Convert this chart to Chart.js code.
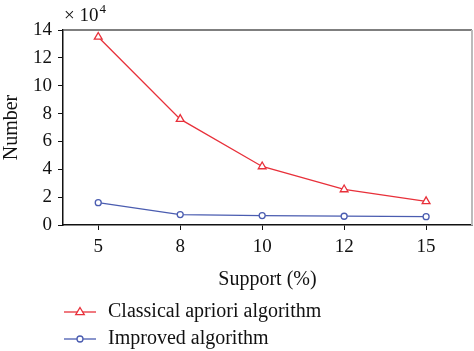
<!DOCTYPE html>
<html><head><meta charset="utf-8">
<script src="https://cdn.jsdelivr.net/npm/chart.js@4"></script>
<style>html,body{margin:0;padding:0;background:#fff}#w{width:474px;height:351px;position:relative}</style>
</head><body><div id="w"><canvas id="c"></canvas></div>
<script>
const supportLabels = ['5', '8', '10', '12', '15'];
const classicalValues = [13.5, 7.6, 4.2, 2.55, 1.7];
const improvedValues = [1.6, 0.75, 0.68, 0.63, 0.6];
const yTicks = [0, 2, 4, 6, 8, 10, 12, 14];
const seriesNames = ['Classical apriori algorithm', 'Improved algorithm'];
const xTitle = 'Support (%)';
const yTitle = 'Number';
const multiplierBase = '\u00d7 10';
const multiplierExp = '4';

const RED = '#e8303a';
const BLUE = '#4a5cb0';
const FONT = '"Liberation Serif", "DejaVu Serif", serif';

const toPoints = vals => vals.map((v, i) => ({x: i, y: v}));

const framePlugin = {
  id: 'frameLegend',
  afterDraw(chart) {
    const ctx = chart.ctx;
    const ca = chart.chartArea;
    ctx.save();
    ctx.strokeStyle = '#555';
    ctx.lineWidth = 1.5;
    ctx.beginPath(); ctx.moveTo(ca.left, ca.top); ctx.lineTo(ca.right, ca.top); ctx.stroke();
    ctx.strokeStyle = '#bbb';
    ctx.lineWidth = 2;
    ctx.beginPath(); ctx.moveTo(ca.right, ca.top); ctx.lineTo(ca.right, ca.bottom); ctx.stroke();
    ctx.fillStyle = '#111';
    ctx.font = '19px ' + FONT;
    ctx.textBaseline = 'alphabetic';
    ctx.textAlign = 'left';
    const mx = ca.left + 1, my = ca.top - 9;
    ctx.fillText(multiplierBase, mx, my);
    const w = ctx.measureText(multiplierBase).width;
    ctx.font = '13px ' + FONT;
    ctx.fillText(multiplierExp, mx + w + 1, my - 8);
    const rows = [
      {name: seriesNames[0], color: RED, style: 'triangle', y: 312},
      {name: seriesNames[1], color: BLUE, style: 'circle', y: 339}
    ];
    rows.forEach(r => {
      ctx.strokeStyle = r.color;
      ctx.lineWidth = 1.3;
      ctx.beginPath(); ctx.moveTo(64, r.y); ctx.lineTo(96, r.y); ctx.stroke();
      ctx.fillStyle = '#fff';
      ctx.beginPath();
      if (r.style === 'triangle') {
        const rad = 4.5;
        ctx.moveTo(80, r.y - rad);
        ctx.lineTo(80 + rad * 0.95, r.y + rad * 0.6);
        ctx.lineTo(80 - rad * 0.95, r.y + rad * 0.6);
        ctx.closePath();
      } else {
        ctx.arc(80, r.y, 3, 0, Math.PI * 2);
      }
      ctx.fill(); ctx.stroke();
      ctx.fillStyle = '#111';
      ctx.font = '20px ' + FONT;
      ctx.textBaseline = 'middle';
      ctx.fillText(r.name, 108, r.y);
    });
    ctx.restore();
  }
};

new Chart(document.getElementById('c'), {
  type: 'line',
  data: {
    datasets: [
      {
        label: seriesNames[0],
        data: toPoints(classicalValues),
        borderColor: RED,
        backgroundColor: '#fff',
        borderWidth: 1.3,
        pointStyle: 'triangle',
        pointRadius: 4.5,
        pointBorderWidth: 1.3,
        pointBackgroundColor: '#fff',
        pointBorderColor: RED,
        tension: 0
      },
      {
        label: seriesNames[1],
        data: toPoints(improvedValues),
        borderColor: BLUE,
        backgroundColor: '#fff',
        borderWidth: 1.3,
        pointStyle: 'circle',
        pointRadius: 3,
        pointBorderWidth: 1.3,
        pointBackgroundColor: '#fff',
        pointBorderColor: BLUE,
        tension: 0
      }
    ]
  },
  options: {
    responsive: true,
    maintainAspectRatio: false,
    animation: false,
    devicePixelRatio: 1,
    layout: {autoPadding: false, padding: {top: 30, right: 2, bottom: 59, left: 0}},
    plugins: {legend: {display: false}, tooltip: {enabled: false}},
    scales: {
      x: {
        type: 'linear',
        min: -0.43,
        max: 4.56,
        afterBuildTicks: s => { s.ticks = supportLabels.map((l, i) => ({value: i})); },
        afterFit: s => { s.height = 67; },
        grid: {display: true, drawOnChartArea: false, drawTicks: true, tickLength: 5, tickColor: '#111', lineWidth: 1},
        border: {display: true, color: '#111', width: 1.5},
        ticks: {
          color: '#111',
          font: {family: FONT, size: 19},
          padding: 6,
          maxRotation: 0,
          callback: v => supportLabels[v] !== undefined ? supportLabels[v] : ''
        },
        title: {display: true, text: xTitle, color: '#111', font: {family: FONT, size: 20}, padding: {top: 0, bottom: 0}}
      },
      y: {
        min: 0,
        max: 14,
        afterBuildTicks: s => { s.ticks = yTicks.map(v => ({value: v})); },
        afterFit: s => { s.width = 63; },
        grid: {display: true, drawOnChartArea: false, drawTicks: true, tickLength: 5, tickColor: '#111', lineWidth: 1},
        border: {display: true, color: '#111', width: 1.5},
        ticks: {
          color: '#111',
          font: {family: FONT, size: 19},
          padding: 6
        },
        title: {display: true, text: yTitle, color: '#111', font: {family: FONT, size: 20}, padding: {top: 0, bottom: 0}}
      }
    }
  },
  plugins: [framePlugin]
});
</script>
</body></html>
